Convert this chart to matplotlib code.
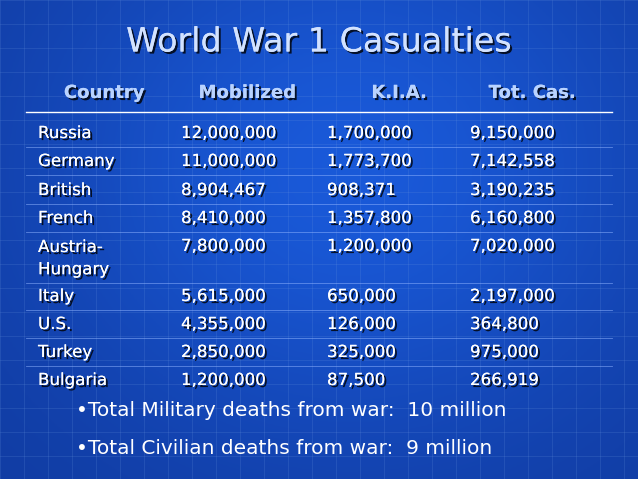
import numpy as np
import matplotlib
matplotlib.use("Agg")
import matplotlib.pyplot as plt
import matplotlib.patheffects as pe

TITLE = "World War 1 Casualties"
HEADERS = ["Country", "Mobilized", "K.I.A.", "Tot. Cas."]
COUNTRIES = ["Russia", "Germany", "British", "French", "Austria-\nHungary",
             "Italy", "U.S.", "Turkey", "Bulgaria"]
MOBILIZED = ["12,000,000", "11,000,000", "8,904,467", "8,410,000", "7,800,000",
             "5,615,000", "4,355,000", "2,850,000", "1,200,000"]
KIA = ["1,700,000", "1,773,700", "908,371", "1,357,800", "1,200,000",
       "650,000", "126,000", "325,000", "87,500"]
TOTCAS = ["9,150,000", "7,142,558", "3,190,235", "6,160,800", "7,020,000",
          "2,197,000", "364,800", "975,000", "266,919"]
BULLETS = ["Total Military deaths from war:  10 million",
           "Total Civilian deaths from war:  9 million"]

plt.rcParams["font.family"] = ["DejaVu Sans"]
W, H = 638, 479
fig = plt.figure(figsize=(W / 100, H / 100), dpi=100)
ax = fig.add_axes([0, 0, 1, 1])
ax.set_xlim(0, W); ax.set_ylim(H, 0); ax.axis("off")

# background gradient
yy, xx = np.mgrid[0:1:200j, 0:1:200j]
g = 0.55 + 0.45 * np.exp(-((xx - 0.55) ** 2 / 0.25 + (yy - 0.35) ** 2 / 0.35))
col0 = np.array([0.02, 0.08, 0.35]); col1 = np.array([0.10, 0.35, 0.85])
img = col0 + (col1 - col0) * g[..., None]
ax.imshow(img, extent=[0, W, H, 0], aspect="auto", zorder=0)
for x in np.arange(0, W, 24):
    ax.plot([x, x], [0, H], color="#6f9be0", lw=0.5, alpha=0.25, zorder=1)
for y in np.arange(0, H, 24):
    ax.plot([0, W], [y, y], color="#6f9be0", lw=0.5, alpha=0.25, zorder=1)

shadow = [pe.withSimplePatchShadow(offset=(1.5, -1.5), shadow_rgbFace="black", alpha=0.8), pe.Normal()]

ax.text(319, 42, TITLE, color="#d2e2ff", fontsize=24, ha="center", va="center",
        path_effects=shadow)

hx = [104, 247, 399, 532]
for x, h in zip(hx, HEADERS):
    ax.text(x, 93, h, color="#b9d3ff", fontsize=13, fontweight="bold",
            ha="center", va="center", path_effects=shadow)
ax.plot([26, 612], [112, 112], color="white", lw=1, zorder=2)

ys = [133, 161, 190, 218, 246, 296, 324, 352, 380]
cols = [38, 181, 327, 470]
for i, y in enumerate(ys):
    for x, vals in zip(cols, [COUNTRIES, MOBILIZED, KIA, TOTCAS]):
        ax.text(x, y, vals[i], color="white", fontsize=12, ha="left", va="center",
                linespacing=1.3 if "\n" in vals[i] else 1,
                path_effects=shadow)
    if i < len(ys) - 1:
        sep = y + 14 if i != 4 else 283
        ax.plot([26, 612], [sep, sep], color="#8fb3ff", lw=0.6, alpha=0.6, zorder=2)
# fix multiline alignment for Austria-Hungary
for t in ax.texts:
    if t.get_text() == COUNTRIES[4]:
        t.set_va("top"); t.set_y(238)

for y, b in zip([411, 449], BULLETS):
    ax.text(76, y, "•" + b, color="white", fontsize=14.5, ha="left", va="center")

fig.savefig("out.png", dpi=100)
